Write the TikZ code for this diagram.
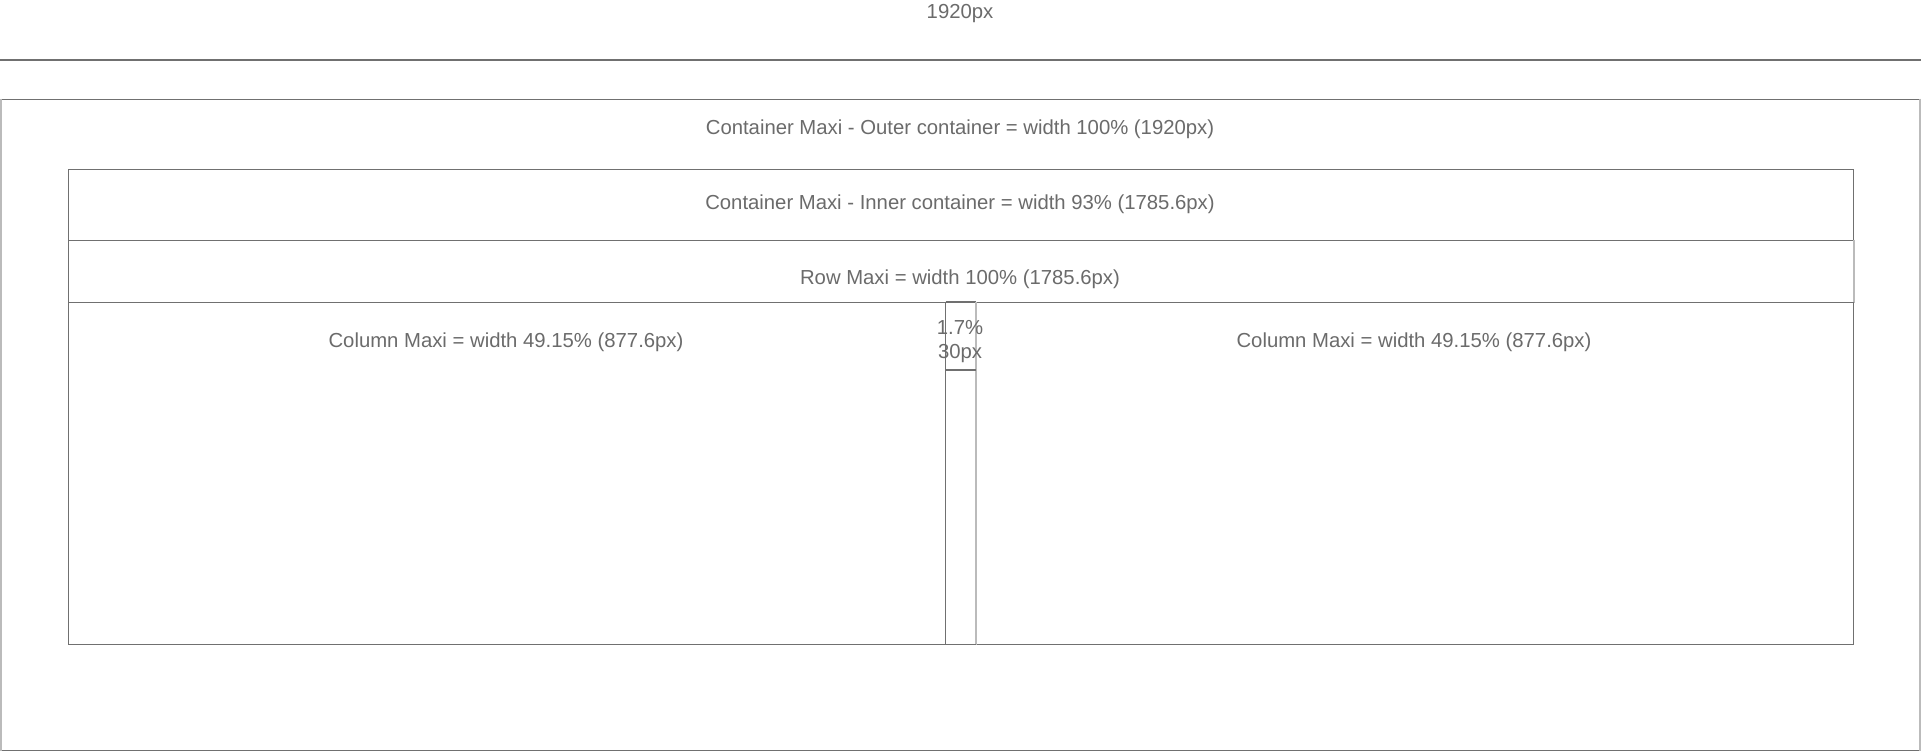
\documentclass[tikz,border=0pt]{standalone}
\usepackage{fontspec}
\setmainfont{Liberation Sans}
\definecolor{linegrey}{HTML}{707070}
\definecolor{lightgrey}{HTML}{BBBBBB}
\definecolor{textgrey}{HTML}{6B6B6B}
\begin{document}
\begin{tikzpicture}[x=1pt,y=-1pt,
  lbl/.style={text=textgrey,font=\fontsize{20.3}{24}\selectfont,inner sep=0pt,anchor=center},
  frame/.style={draw=linegrey,line width=1.1pt},
  soft/.style={draw=lightgrey,line width=2pt}]
\useasboundingbox[fill=white] (0,0) rectangle (1921,750);
% ruler
\coordinate (rl) at (0,60);
\coordinate (rr) at (1921,60);
\draw[frame] (rl) -- (rr);
\node[lbl] (ruler) at (960,14) {1920px};
% outer container
\node[frame,minimum width=1918pt,minimum height=651pt,inner sep=0pt,anchor=north west] (outer) at (1,98.5) {};
\draw[soft] (outer.north west) -- (outer.south west);
\draw[soft] (outer.north east) -- (outer.south east);
\node[lbl] (outerlbl) at (960,129.5) {Container Maxi - Outer container = width 100\% (1920px)};
% inner container
\node[frame,minimum width=1784.5pt,minimum height=71pt,inner sep=0pt,anchor=north west] (inner) at (68,168.5) {};
\node[lbl] (innerlbl) at (960,204.5) {Container Maxi - Inner container = width 93\% (1785.6px)};
% row
\node[frame,minimum width=1784.5pt,minimum height=62pt,inner sep=0pt,anchor=north west] (row) at (68,239.5) {};
\draw[soft] (row.north east) -- (row.south east);
\node[lbl] (rowlbl) at (960,279.5) {Row Maxi = width 100\% (1785.6px)};
% columns
\node[frame,minimum width=876.5pt,minimum height=342pt,inner sep=0pt,anchor=north west] (colL) at (68,301.5) {};
\node[frame,minimum width=876.5pt,minimum height=342pt,inner sep=0pt,anchor=north west] (colR) at (976,301.5) {};
\draw[soft] (colR.north west) -- (colR.south west);
\node[lbl] (colLlbl) at (506,342.5) {Column Maxi = width 49.15\% (877.6px)};
\node[lbl] (colRlbl) at (1414,342.5) {Column Maxi = width 49.15\% (877.6px)};
% gutter
\draw[frame] (colL.north east) -- (colR.north west);
\coordinate (gl) at (colL.east |- 0,370);
\coordinate (gr) at (colR.west |- 0,370);
\draw[frame] (gl) -- (gr);
\draw[frame] (colL.south east) -- (colR.south west);
\node[lbl,align=center,font=\fontsize{20.3}{24}\selectfont] (gutlbl) at (960,341.5) {1.7\%\\30px};
\end{tikzpicture}
\end{document}
